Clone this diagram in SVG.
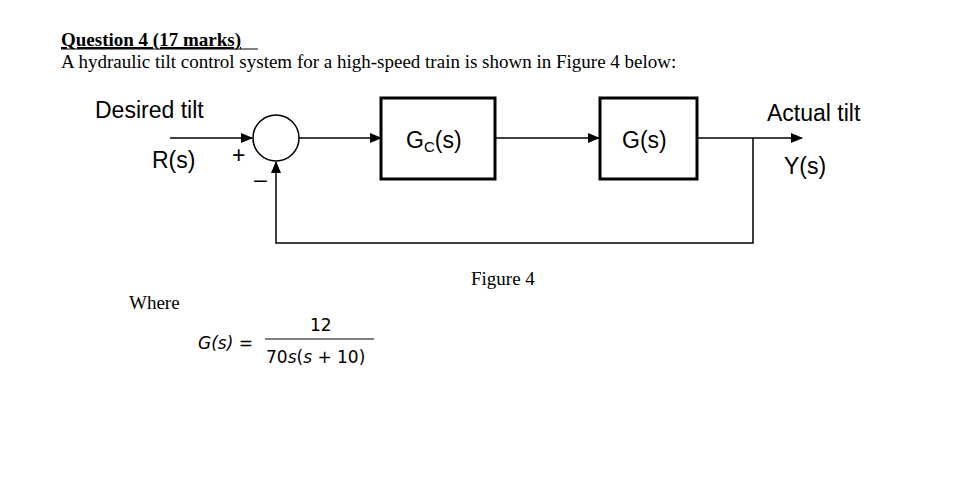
<svg xmlns="http://www.w3.org/2000/svg" width="973" height="497" viewBox="0 0 973 497">
<style>
.t{font-family:"Liberation Serif",serif;font-size:19px;fill:#000}
.a{font-family:"Liberation Sans",Arial,sans-serif;font-size:23px;fill:#000}
.m{font-family:"DejaVu Sans",sans-serif;font-size:17px;fill:#000}
.l{stroke:#000;stroke-width:1.5;fill:none}
.b{stroke:#000;stroke-width:3;fill:#fff}
</style>
<defs><marker id="ar" markerWidth="12" markerHeight="10" refX="11" refY="5" orient="auto" markerUnits="userSpaceOnUse"><path d="M0,0 L12,5 L0,10 z" fill="#000"/></marker></defs>
<rect width="973" height="497" fill="#fff"/>
<text class="t" x="61" y="46" font-weight="bold" text-decoration="underline">Question 4 (17 marks)</text>
<line x1="61" y1="49" x2="258" y2="49" stroke="#000" stroke-width="1.2"/>
<text class="t" x="61" y="68">A hydraulic tilt control system for a high-speed train is shown in Figure 4 below:</text>
<g id="connectors">
<line class="l" x1="170" y1="138" x2="252" y2="138" marker-end="url(#ar)"/>
<line class="l" x1="299" y1="138" x2="381" y2="138" marker-end="url(#ar)"/>
<line class="l" x1="495" y1="138" x2="599" y2="138" marker-end="url(#ar)"/>
<line class="l" x1="697" y1="138" x2="802" y2="138" marker-end="url(#ar)"/>
<polyline class="l" points="753,138 753,243 276,243 276,162" marker-end="url(#ar)"/>
</g>
<g id="sum"><circle cx="276" cy="138" r="23" stroke="#000" stroke-width="1.5" fill="#fff"/>
<text class="a" x="232" y="163" font-size="20">+</text><text class="a" x="254" y="187" font-size="20">–</text></g>
<g id="gc"><rect class="b" x="381" y="98" width="114" height="81"/><text class="a" x="406" y="148">G<tspan font-size="15" dy="4">C</tspan><tspan dy="-4">(s)</tspan></text></g>
<g id="g"><rect class="b" x="600" y="98" width="97" height="81"/><text class="a" x="622" y="148">G(s)</text></g>
<text class="a" x="95" y="118">Desired tilt</text>
<text class="a" x="152" y="168">R(s)</text>
<text class="a" x="767" y="121">Actual tilt</text>
<text class="a" x="784" y="174">Y(s)</text>
<text class="t" x="471" y="285">Figure 4</text>
<text class="t" x="129" y="309">Where</text>
<g id="eq">
<text class="m" x="198" y="349" font-style="italic">G(s) =</text>
<text class="m" x="310" y="331">12</text>
<line x1="265" y1="339" x2="374" y2="339" stroke="#000" stroke-width="1"/>
<text class="m" x="266" y="363">70<tspan font-style="italic">s</tspan>(<tspan font-style="italic">s</tspan> + 10)</text>
</g>
</svg>
